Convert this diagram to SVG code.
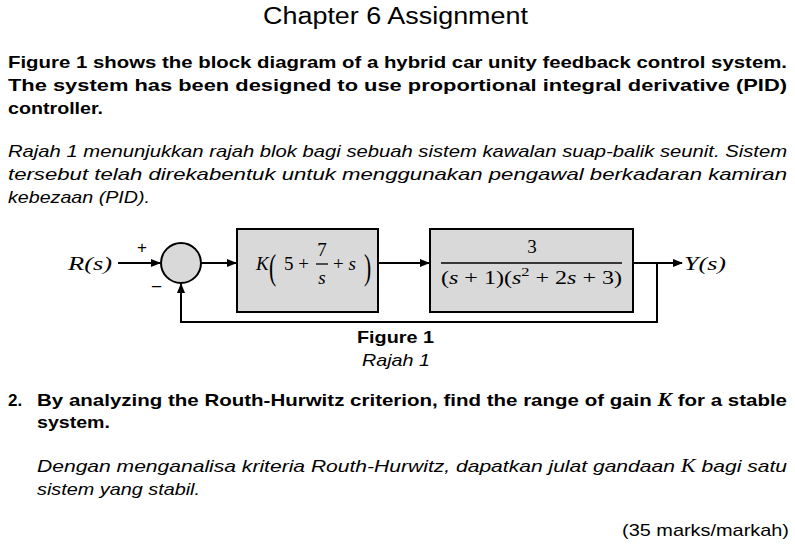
<svg xmlns="http://www.w3.org/2000/svg" width="795" height="546" viewBox="0 0 795 546">
<style>
.t{font-family:"Liberation Sans",Arial,sans-serif;font-size:17px;fill:#000}
.b{font-weight:bold}
.i{font-style:italic}
.m{font-family:"Liberation Serif","DejaVu Serif",serif;font-size:19px;fill:#000}
.mi{font-style:italic}
.blk{fill:#d9d9d9;stroke:#000;stroke-width:2}
.ln{stroke:#000;stroke-width:2;fill:none}
</style>
<defs><marker id="a" markerWidth="10" markerHeight="8" refX="9" refY="4" orient="auto" markerUnits="userSpaceOnUse"><path d="M0,0L10,4L0,8z" fill="#000"/></marker></defs>
<rect width="795" height="546" fill="#fff"/>
<text x="263" y="24" class="t" style="font-size:23px" textLength="265" lengthAdjust="spacingAndGlyphs">Chapter 6 Assignment</text>
<text class="t b" x="8" y="68" textLength="779" lengthAdjust="spacingAndGlyphs">Figure 1 shows the block diagram of a hybrid car unity feedback control system.</text>
<text class="t b" x="8" y="91" textLength="779" lengthAdjust="spacingAndGlyphs">The system has been designed to use proportional integral derivative (PID)</text>
<text class="t b" x="8" y="114" textLength="95" lengthAdjust="spacingAndGlyphs">controller.</text>
<text class="t i" x="8" y="157" textLength="779" lengthAdjust="spacingAndGlyphs">Rajah 1 menunjukkan rajah blok bagi sebuah sistem kawalan suap-balik seunit. Sistem</text>
<text class="t i" x="8" y="180" textLength="779" lengthAdjust="spacingAndGlyphs">tersebut telah direkabentuk untuk menggunakan pengawal berkadaran kamiran</text>
<text class="t i" x="8" y="203" textLength="142" lengthAdjust="spacingAndGlyphs">kebezaan (PID).</text>
<g id="connectors">
<line class="ln" x1="118" y1="263" x2="160" y2="263" marker-end="url(#a)"/>
<line class="ln" x1="201" y1="263" x2="236" y2="263" marker-end="url(#a)"/>
<line class="ln" x1="378" y1="263" x2="429" y2="263" marker-end="url(#a)"/>
<line class="ln" x1="633" y1="263" x2="682" y2="263" marker-end="url(#a)"/>
<polyline class="ln" points="657,263 657,322 181,322 181,284" marker-end="url(#a)"/>
</g>
<text class="m mi" x="68" y="270" textLength="44" lengthAdjust="spacingAndGlyphs">R(s)</text>
<text class="m mi" x="684" y="270" textLength="42" lengthAdjust="spacingAndGlyphs">Y(s)</text>
<text class="t" x="137" y="253">+</text>
<text class="t" x="151" y="293" style="font-size:19px">−</text>
<g id="sum"><circle cx="181" cy="263" r="20" fill="#d9d9d9" stroke="#000" stroke-width="2"/></g>
<g id="pid"><rect class="blk" x="237" y="229" width="141" height="83"/>
<text class="m mi" x="256" y="270">K</text>
<text class="m" x="269" y="279" style="font-size:36px" transform="translate(269,0) scale(0.6,1) translate(-269,0)">(</text>
<text class="m" x="284" y="270">5 +</text>
<text class="m" x="322" y="256" text-anchor="middle">7</text>
<line x1="316" y1="264" x2="328" y2="264" stroke="#000" stroke-width="1.3"/>
<text class="m mi" x="322" y="284" text-anchor="middle">s</text>
<text class="m" x="333" y="270">+ <tspan class="mi">s</tspan></text>
<text class="m" x="364" y="279" style="font-size:36px" transform="translate(364,0) scale(0.6,1) translate(-364,0)">)</text>
</g>
<g id="plant"><rect class="blk" x="430" y="229" width="203" height="83"/>
<text class="m" x="532" y="253" text-anchor="middle">3</text>
<line x1="441" y1="263" x2="622" y2="263" stroke="#000" stroke-width="1.5"/>
<text class="m" x="441" y="284" textLength="181" lengthAdjust="spacingAndGlyphs">(<tspan class="mi">s</tspan> + 1)(<tspan class="mi">s</tspan><tspan dy="-8" style="font-size:13px">2</tspan><tspan dy="8"> + 2</tspan><tspan class="mi">s</tspan> + 3)</text>
</g>
<text class="t b" x="357" y="343" textLength="77" lengthAdjust="spacingAndGlyphs">Figure 1</text>
<text class="t i" x="362" y="366" textLength="68" lengthAdjust="spacingAndGlyphs">Rajah 1</text>
<text class="t b" x="8" y="406">2.</text>
<text class="t b" x="37" y="406" textLength="750" lengthAdjust="spacingAndGlyphs">By analyzing the Routh-Hurwitz criterion, find the range of gain <tspan class="m mi" style="font-size:18px">K</tspan> for a stable</text>
<text class="t b" x="37" y="428" textLength="73" lengthAdjust="spacingAndGlyphs">system.</text>
<text class="t i" x="37" y="472" textLength="750" lengthAdjust="spacingAndGlyphs">Dengan menganalisa kriteria Routh-Hurwitz, dapatkan julat gandaan <tspan class="m mi" style="font-size:18px">K</tspan> bagi satu</text>
<text class="t i" x="37" y="495" textLength="163" lengthAdjust="spacingAndGlyphs">sistem yang stabil.</text>
<text class="t" x="622" y="536" textLength="167" lengthAdjust="spacingAndGlyphs">(35 marks/markah)</text>
</svg>
